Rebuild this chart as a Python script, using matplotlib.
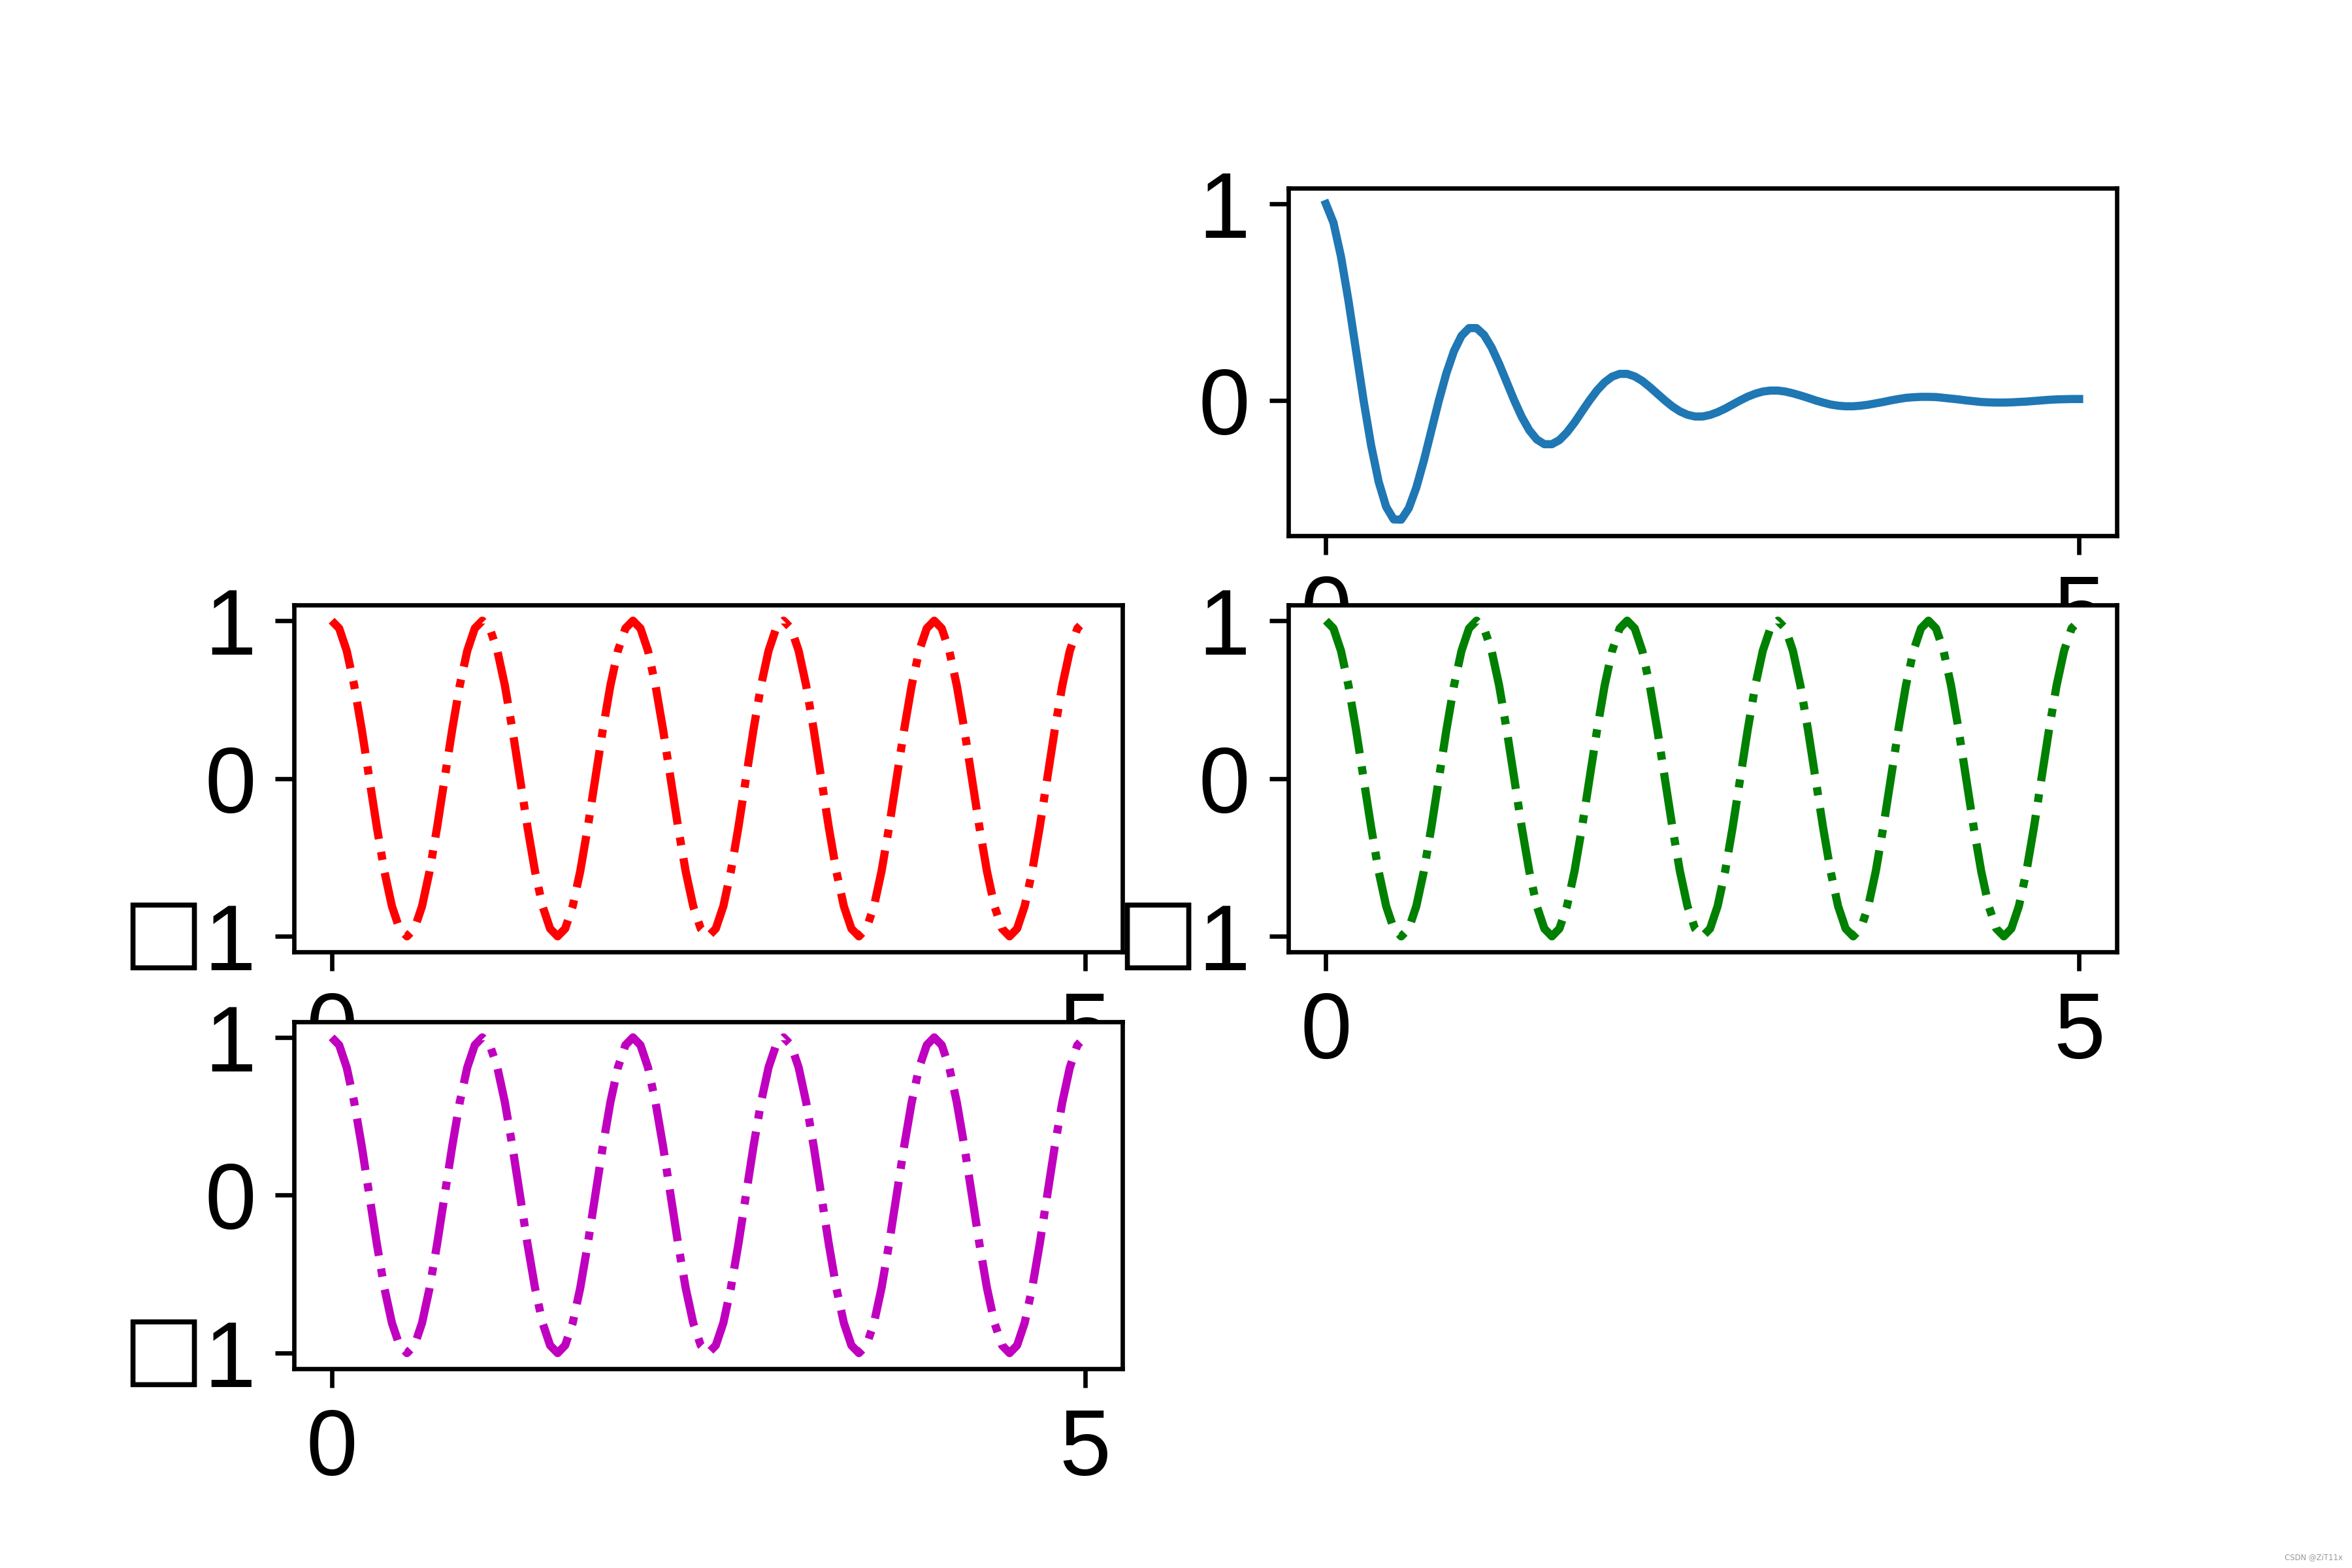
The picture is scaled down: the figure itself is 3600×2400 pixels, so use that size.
import numpy as np
import matplotlib
matplotlib.use("Agg")
import matplotlib.pyplot as plt

plt.rcParams['font.family'] = ['Liberation Sans', 'DejaVu Sans']
plt.rcParams['font.size'] = 17

# sample positions (0 .. 5, step 0.05)
t = np.linspace(0, 5, 101)

# damped wave (top right panel)
damped = [1.000, 0.905, 0.732, 0.506, 0.253, 0.000, -0.229, -0.414, -0.542, -0.606,
          -0.607, -0.549, -0.444, -0.307, -0.153, 0.000, 0.139, 0.251, 0.329, 0.368,
          0.368, 0.333, 0.269, 0.186, 0.093, 0.000, -0.084, -0.152, -0.199, -0.223,
          -0.223, -0.202, -0.163, -0.113, -0.056, 0.000, 0.051, 0.092, 0.121, 0.135,
          0.135, 0.122, 0.099, 0.068, 0.034, 0.000, -0.031, -0.056, -0.073, -0.082,
          -0.082, -0.074, -0.060, -0.042, -0.021, 0.000, 0.019, 0.034, 0.045, 0.050,
          0.050, 0.045, 0.036, 0.025, 0.013, 0.000, -0.011, -0.021, -0.027, -0.030,
          -0.030, -0.027, -0.022, -0.015, -0.008, 0.000, 0.007, 0.013, 0.016, 0.018,
          0.018, 0.017, 0.013, 0.009, 0.005, 0.000, -0.004, -0.008, -0.010, -0.011,
          -0.011, -0.010, -0.008, -0.006, -0.003, 0.000, 0.003, 0.005, 0.006, 0.007,
          0.007]

# undamped wave (the three dash-dot panels)
wave = [1, 0.951, 0.809, 0.588, 0.309, 0, -0.309, -0.588, -0.809, -0.951,
        -1, -0.951, -0.809, -0.588, -0.309, 0, 0.309, 0.588, 0.809, 0.951,
        1, 0.951, 0.809, 0.588, 0.309, 0, -0.309, -0.588, -0.809, -0.951,
        -1, -0.951, -0.809, -0.588, -0.309, 0, 0.309, 0.588, 0.809, 0.951,
        1, 0.951, 0.809, 0.588, 0.309, 0, -0.309, -0.588, -0.809, -0.951,
        -1, -0.951, -0.809, -0.588, -0.309, 0, 0.309, 0.588, 0.809, 0.951,
        1, 0.951, 0.809, 0.588, 0.309, 0, -0.309, -0.588, -0.809, -0.951,
        -1, -0.951, -0.809, -0.588, -0.309, 0, 0.309, 0.588, 0.809, 0.951,
        1, 0.951, 0.809, 0.588, 0.309, 0, -0.309, -0.588, -0.809, -0.951,
        -1, -0.951, -0.809, -0.588, -0.309, 0, 0.309, 0.588, 0.809, 0.951,
        1]

xticks = [0, 5]
top_yticks = [0, 1]
top_ylabels = ['0', '1']
wave_yticks = [-1, 0, 1]
wave_ylabels = ['\u26101', '0', '1']   # minus sign shows as a missing-glyph box

fig = plt.figure(figsize=(6, 4), dpi=600)
fig.subplots_adjust(left=0.125, right=0.9, top=0.88, bottom=0.127,
                    wspace=0.2, hspace=0.2)

ax = fig.add_subplot(3, 2, 2)
ax.plot(t, damped, color='C0', lw=1.5)
ax.set_xticks(xticks)
ax.set_yticks(top_yticks)
ax.set_yticklabels(top_ylabels)

panels = [(3, 'r'), (4, 'g'), (5, 'm')]
for pos, col in panels:
    ax = fig.add_subplot(3, 2, pos)
    ax.plot(t, wave, color=col, ls='-.', lw=1.5)
    ax.set_xticks(xticks)
    ax.set_yticks(wave_yticks)
    ax.set_yticklabels(wave_ylabels)

fig.text(0.996, 0.004, 'CSDN @ZiT11x', fontsize=1.4, color='#999999',
         ha='right', va='bottom', family='DejaVu Sans')

fig.savefig('out.png', dpi=600)
